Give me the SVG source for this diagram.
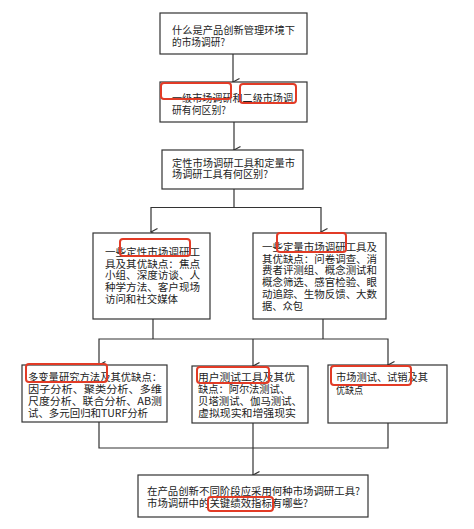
<svg xmlns="http://www.w3.org/2000/svg" width="474" height="529" viewBox="0 0 474 529">
<style>
.box{fill:#fff;stroke:#333;stroke-width:1.2}
.hl{fill:none;stroke:#e23b26;stroke-width:2;}
.t{font-family:"Noto Sans CJK SC","Noto Sans",sans-serif;font-size:10.3px;fill:#222}
.c{fill:none;stroke:#333;stroke-width:1.2}
</style>
<defs>
<marker id="ar" markerUnits="userSpaceOnUse" markerWidth="10" markerHeight="10" refX="5" refY="8" orient="auto-start-reverse" viewBox="0 0 10 10">
<polyline points="1.5,1.5 5,8 8.5,1.5" fill="none" stroke="#333" stroke-width="1.2"/>
</marker>
</defs>
<rect width="474" height="529" fill="#fff"/>
<g id="connectors">
<line class="c" x1="233" y1="54" x2="233" y2="82" marker-end="url(#ar)"/>
<line class="c" x1="234" y1="122" x2="234" y2="150" marker-end="url(#ar)"/>
<polyline class="c" points="234,189 234,207.5"/>
<polyline class="c" points="151,232 151,207.5 321,207.5 321,232" marker-start="url(#ar)" marker-end="url(#ar)"/>
<polyline class="c" points="153,319 153,339"/>
<polyline class="c" points="323,319 323,339"/>
<polyline class="c" points="99,365 99,339 388,339 388,365" marker-start="url(#ar)" marker-end="url(#ar)"/>
<line class="c" x1="253" y1="339" x2="253" y2="366" marker-end="url(#ar)"/>
<polyline class="c" points="99,422 99,448 388,448 388,423"/>
<line class="c" x1="253" y1="423" x2="253" y2="448"/>
<line class="c" x1="253" y1="448" x2="253" y2="475" marker-end="url(#ar)"/>
</g>
<g id="n1">
<rect class="box" x="160" y="13" width="147" height="41"/>
<text class="t" x="172" y="34" textLength="123" lengthAdjust="spacingAndGlyphs">什么是产品创新管理环境下</text>
<text class="t" x="172" y="46" textLength="53" lengthAdjust="spacingAndGlyphs">的市场调研?</text>
</g>
<g id="n2">
<rect class="box" x="160" y="82" width="147" height="40"/>
<text class="t" x="172" y="102" textLength="121" lengthAdjust="spacingAndGlyphs">一级市场调研和二级市场调</text>
<text class="t" x="172" y="114" textLength="54" lengthAdjust="spacingAndGlyphs">研有何区别?</text>
<rect class="hl" x="161" y="83" width="70" height="16" rx="3"/>
<rect class="hl" x="240" y="84" width="56" height="19" rx="3"/>
</g>
<g id="n3">
<rect class="box" x="162" y="150" width="141" height="39"/>
<text class="t" x="172" y="167" textLength="123" lengthAdjust="spacingAndGlyphs">定性市场调研工具和定量市</text>
<text class="t" x="172" y="178" textLength="96" lengthAdjust="spacingAndGlyphs">场调研工具有何区别?</text>
</g>
<g id="n4">
<rect class="box" x="93" y="233" width="117" height="86"/>
<text class="t" x="105" y="256" textLength="95" lengthAdjust="spacingAndGlyphs">一些定性市场调研工</text>
<text class="t" x="105" y="267.5" textLength="95" lengthAdjust="spacingAndGlyphs">具及其优缺点：焦点</text>
<text class="t" x="105" y="279" textLength="95" lengthAdjust="spacingAndGlyphs">小组、深度访谈、人</text>
<text class="t" x="105" y="291" textLength="95" lengthAdjust="spacingAndGlyphs">种学方法、客户现场</text>
<text class="t" x="105" y="303" textLength="73" lengthAdjust="spacingAndGlyphs">访问和社交媒体</text>
<rect class="hl" x="120" y="239" width="70" height="17" rx="3"/>
</g>
<g id="n5">
<rect class="box" x="253" y="233" width="133" height="86"/>
<text class="t" x="262" y="251" textLength="115" lengthAdjust="spacingAndGlyphs">一些定量市场调研工具及</text>
<text class="t" x="262" y="262.5" textLength="115" lengthAdjust="spacingAndGlyphs">其优缺点：问卷调查、消</text>
<text class="t" x="262" y="274" textLength="115" lengthAdjust="spacingAndGlyphs">费者评测组、概念测试和</text>
<text class="t" x="262" y="286" textLength="115" lengthAdjust="spacingAndGlyphs">概念筛选、感官检验、眼</text>
<text class="t" x="262" y="298" textLength="115" lengthAdjust="spacingAndGlyphs">动追踪、生物反馈、大数</text>
<text class="t" x="262" y="310" textLength="41" lengthAdjust="spacingAndGlyphs">据、众包</text>
<rect class="hl" x="277" y="233" width="69" height="19" rx="3"/>
</g>
<g id="n6">
<rect class="box" x="22" y="365" width="145" height="57"/>
<text class="t" x="28" y="381" textLength="134" lengthAdjust="spacingAndGlyphs">多变量研究方法及其优缺点：</text>
<text class="t" x="28" y="393" textLength="134" lengthAdjust="spacingAndGlyphs">因子分析、聚类分析、多维</text>
<text class="t" x="28" y="405" textLength="134" lengthAdjust="spacingAndGlyphs">尺度分析、联合分析、AB测</text>
<text class="t" x="28" y="417" textLength="120" lengthAdjust="spacingAndGlyphs">试、多元回归和TURF分析</text>
<rect class="hl" x="26" y="364" width="81" height="18" rx="3"/>
</g>
<g id="n7">
<rect class="box" x="192" y="366" width="116" height="57"/>
<text class="t" x="198" y="381" textLength="97" lengthAdjust="spacingAndGlyphs">用户测试工具及其优</text>
<text class="t" x="198" y="393" textLength="92" lengthAdjust="spacingAndGlyphs">缺点：阿尔法测试、</text>
<text class="t" x="198" y="405" textLength="104" lengthAdjust="spacingAndGlyphs">贝塔测试、伽马测试、</text>
<text class="t" x="198" y="417" textLength="98" lengthAdjust="spacingAndGlyphs">虚拟现实和增强现实</text>
<rect class="hl" x="197" y="367" width="72" height="16" rx="3"/>
</g>
<g id="n8">
<rect class="box" x="328" y="365" width="119" height="58"/>
<text class="t" x="336" y="381" textLength="92" lengthAdjust="spacingAndGlyphs">市场测试、试销及其</text>
<text class="t" x="336" y="394" textLength="27" lengthAdjust="spacingAndGlyphs">优缺点</text>
<rect class="hl" x="331" y="366" width="80" height="19" rx="3"/>
</g>
<g id="n9">
<rect class="box" x="138" y="475" width="230" height="42"/>
<text class="t" x="147" y="495" textLength="213" lengthAdjust="spacingAndGlyphs">在产品创新不同阶段应采用何种市场调研工具?</text>
<text class="t" x="147" y="507" textLength="161" lengthAdjust="spacingAndGlyphs">市场调研中的关键绩效指标有哪些?</text>
<rect class="hl" x="208" y="497" width="65" height="14" rx="3"/>
</g>
</svg>
